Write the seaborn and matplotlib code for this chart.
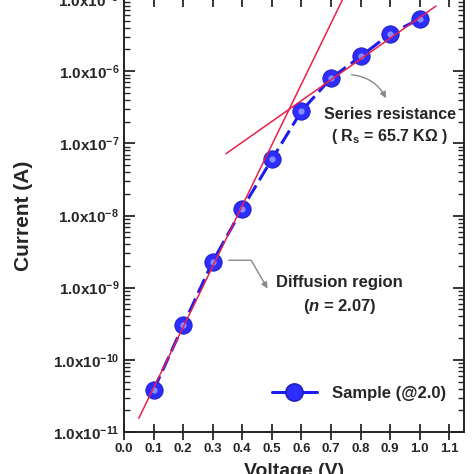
import numpy as np
import matplotlib
matplotlib.use("Agg")
import matplotlib.pyplot as plt
import matplotlib.ticker as mticker
from matplotlib.lines import Line2D
import seaborn as sns
import pandas as pd

# %% data
voltage = [0.1, 0.2, 0.3, 0.4, 0.5, 0.6, 0.7, 0.8, 0.9, 1.0]
current = [3.8e-11, 3.0e-10, 2.3e-9, 1.25e-8, 6.0e-8, 2.8e-7, 8.0e-7, 1.6e-6, 3.3e-6, 5.3e-6]

# fitted lines (end points)
diff_v = [0.05, 0.74]
diff_i = [1.55e-11, 1.0e-5]
rs_v = [0.345, 1.055]
rs_i = [7.2e-8, 8.0e-6]

ytick_vals = [1e-11, 1e-10, 1e-9, 1e-8, 1e-7, 1e-6, 1e-5]
ytick_exps = [-11, -10, -9, -8, -7, -6, -5]
xtick_vals = [0.0, 0.1, 0.2, 0.3, 0.4, 0.5, 0.6, 0.7, 0.8, 0.9, 1.0, 1.1]

df = pd.DataFrame({"Voltage": voltage, "Current": current})

# %% style
sns.set_style("ticks")
plt.rcParams["font.family"] = ["Liberation Sans", "DejaVu Sans"]
plt.rcParams["font.weight"] = "bold"
plt.rcParams["mathtext.fontset"] = "custom"
plt.rcParams["mathtext.rm"] = "Liberation Sans:bold"
plt.rcParams["mathtext.bf"] = "Liberation Sans:bold"
plt.rcParams["mathtext.it"] = "Liberation Sans:bold:italic"

fig = plt.figure(figsize=(4.74, 4.74), dpi=100)
ax = fig.add_axes([0.2616, 0.0886, 0.979 - 0.2616, 1.002 - 0.0886])

blue = "#1c1cf0"
red = "#e8204a"

sns.lineplot(data=df, x="Voltage", y="Current", ax=ax, color=blue, lw=2.2,
             linestyle=(0, (5, 2)), marker="o", markersize=12.5,
             markerfacecolor="#2d2dff", markeredgecolor="#1a1ab8", markeredgewidth=0.6,
             zorder=3)
# glossy highlight on the spheres
ax.plot(voltage, current, ls="none", marker="o", markersize=4.5,
        markerfacecolor="#9fa6ff", markeredgecolor="none", alpha=0.8, zorder=4)

ax.plot(diff_v, diff_i, color=red, lw=1.1, zorder=5)
ax.plot(rs_v, rs_i, color=red, lw=1.1, zorder=5)

ax.set_yscale("log")
ax.set_xlim(0.0, 1.15)
ax.set_ylim(1e-11, 1e-5)

ax.yaxis.set_major_locator(mticker.FixedLocator(ytick_vals))
ax.yaxis.set_major_formatter(mticker.FixedFormatter(
    [r"1.0x10$^{%d}$" % e for e in ytick_exps]))
ax.yaxis.set_minor_locator(mticker.LogLocator(base=10, subs=np.arange(2, 10)))
ax.yaxis.set_minor_formatter(mticker.NullFormatter())
ax.set_xticks(xtick_vals)
ax.set_xticklabels(["%.1f" % v for v in xtick_vals])

ax.tick_params(axis="y", which="major", direction="in", length=8, width=1.3,
               right=True, labelsize=11)
ax.tick_params(axis="y", which="minor", direction="in", length=4, width=1.0, right=True)
ax.tick_params(axis="x", which="major", direction="inout", length=12, width=1.3,
               top=True, labelsize=9.5, pad=2)
for s in ax.spines.values():
    s.set_linewidth(1.4)
    s.set_color("#222222")

ax.set_xlabel("Voltage (V)", fontsize=14, fontweight="bold", labelpad=6)
ax.set_ylabel("Current (A)", fontsize=15, fontweight="bold", labelpad=14)

# annotations
ax.annotate("", xy=(0.89, 3.9e-7), xytext=(0.76, 9.0e-7),
            arrowprops=dict(arrowstyle="-|>", color="#888888", lw=1.0,
                            connectionstyle="arc3,rad=-0.3", mutation_scale=9))
ax.text(0.9, 2.5e-7, "Series resistance", ha="center", va="center", fontsize=11.5)
ax.text(0.9, 1.25e-7, r"( R$_\mathrm{s}$ = 65.7 K$\Omega$ )", ha="center",
        va="center", fontsize=11.5)

ax.annotate("", xy=(0.49, 9.0e-10), xytext=(0.345, 2.4e-9),
            arrowprops=dict(arrowstyle="-|>", color="#888888", lw=1.0,
                            connectionstyle="angle,angleA=0,angleB=-60,rad=0",
                            mutation_scale=9))
ax.text(0.73, 1.17e-9, "Diffusion region", ha="center", va="center", fontsize=12)
ax.text(0.73, 5.4e-10, r"($\mathit{n}$ = 2.07)", ha="center", va="center", fontsize=12)

handle = Line2D([], [], color=blue, lw=2.2, marker="o", markersize=12.5,
                markerfacecolor="#2d2dff", markeredgecolor="#1a1ab8")
ax.legend([handle], ["Sample (@2.0)"], loc="center right", frameon=False,
          fontsize=12, handlelength=2.7, handletextpad=0.9,
          bbox_to_anchor=(0.99, 0.09))

fig.savefig("out.png", dpi=100)
